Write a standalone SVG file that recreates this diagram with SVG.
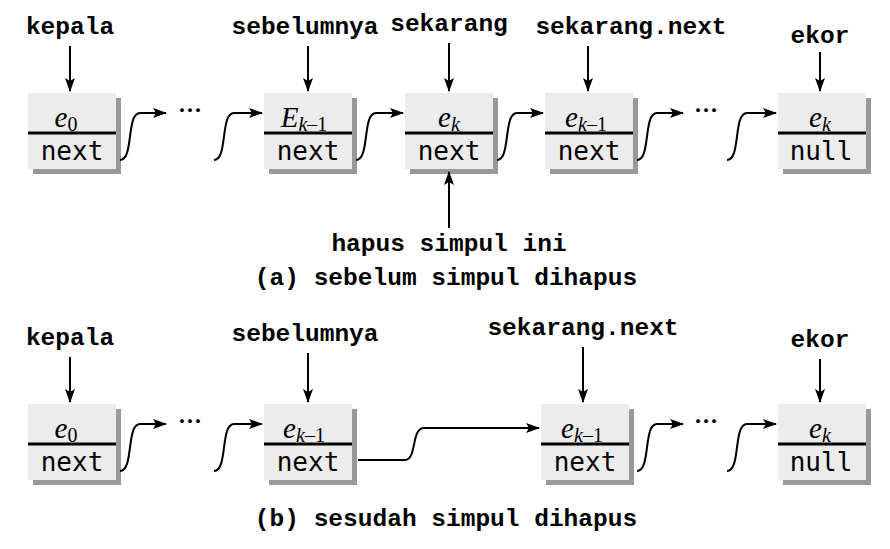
<svg xmlns="http://www.w3.org/2000/svg" width="890" height="549" viewBox="0 0 890 549">
<defs>
<marker id="ah" viewBox="0 0 14 10" refX="13" refY="5" markerWidth="14" markerHeight="10" markerUnits="userSpaceOnUse" orient="auto"><path d="M0,0 L14,5 L0,10 L3,5 Z" fill="#000"/></marker>
<g id="box">
<rect x="5" y="5" width="88" height="76" fill="#999"/>
<rect x="0" y="0" width="88" height="76" fill="#ececec"/>
<line x1="0" y1="40" x2="88" y2="40" stroke="#000" stroke-width="3"/>
</g>
</defs>
<style>
.lb{font-family:"Liberation Mono",monospace;font-weight:bold;font-size:24.5px;text-anchor:middle}
.mn{font-family:"DejaVu Sans Mono",monospace;font-size:26px;text-anchor:middle}
.it{font-family:"Liberation Serif",serif;font-style:italic;font-size:29px;text-anchor:middle}
.sb{font-family:"Liberation Serif",serif;font-size:20px}
.ln{fill:none;stroke:#000;stroke-width:2}
.dt{font-family:"Liberation Serif",serif;font-size:24px;font-weight:bold;text-anchor:middle}
</style>
<g id="labels">
<text class="lb" x="70" y="34">kepala</text>
<text class="lb" x="305" y="34">sebelumnya</text>
<text class="lb" x="449" y="31">sekarang</text>
<text class="lb" x="631" y="34">sekarang.next</text>
<text class="lb" x="820" y="43">ekor</text>
<text class="lb" x="449" y="251">hapus simpul ini</text>
<text class="lb" x="446" y="285">(a) sebelum simpul dihapus</text>
<text class="lb" x="70" y="345">kepala</text>
<text class="lb" x="305" y="341">sebelumnya</text>
<text class="lb" x="583" y="335">sekarang.next</text>
<text class="lb" x="820" y="347">ekor</text>
<text class="lb" x="446" y="526">(b) sesudah simpul dihapus</text>
</g>
<g id="n1"><use href="#box" x="28" y="93"/><text class="it" x="66" y="127">e<tspan class="sb" font-style="normal" dy="4">0</tspan></text><text class="mn" x="72" y="160">next</text></g>
<g id="n2"><use href="#box" x="264" y="93"/><text class="it" x="304" y="127">E<tspan class="sb" dy="4">k</tspan><tspan class="sb" font-style="normal">–1</tspan></text><text class="mn" x="308" y="160">next</text></g>
<g id="n3"><use href="#box" x="405" y="93"/><text class="it" x="449" y="127">e<tspan class="sb" dy="4">k</tspan></text><text class="mn" x="449" y="160">next</text></g>
<g id="n4"><use href="#box" x="545" y="93"/><text class="it" x="586" y="127">e<tspan class="sb" dy="4">k</tspan><tspan class="sb" font-style="normal">–1</tspan></text><text class="mn" x="589" y="160">next</text></g>
<g id="n5"><use href="#box" x="778" y="93"/><text class="it" x="820" y="127">e<tspan class="sb" dy="4">k</tspan></text><text class="mn" x="821" y="160">null</text></g>
<g id="m1"><use href="#box" x="28" y="404"/><text class="it" x="66" y="438">e<tspan class="sb" font-style="normal" dy="4">0</tspan></text><text class="mn" x="72" y="471">next</text></g>
<g id="m2"><use href="#box" x="264" y="404"/><text class="it" x="304" y="438">e<tspan class="sb" dy="4">k</tspan><tspan class="sb" font-style="normal">–1</tspan></text><text class="mn" x="308" y="471">next</text></g>
<g id="m4"><use href="#box" x="541" y="404"/><text class="it" x="582" y="438">e<tspan class="sb" dy="4">k</tspan><tspan class="sb" font-style="normal">–1</tspan></text><text class="mn" x="585" y="471">next</text></g>
<g id="m5"><use href="#box" x="778" y="404"/><text class="it" x="820" y="438">e<tspan class="sb" dy="4">k</tspan></text><text class="mn" x="821" y="471">null</text></g>
<g id="dots">
<text class="dt" x="190" y="118">···</text>
<text class="dt" x="706" y="118">···</text>
<text class="dt" x="190" y="429">···</text>
<text class="dt" x="706" y="429">···</text>
</g>
<g id="connectors">
<path class="ln" marker-end="url(#ah)" d="M70,46 V91"/>
<path class="ln" marker-end="url(#ah)" d="M308,46 V91"/>
<path class="ln" marker-end="url(#ah)" d="M449,43 V91"/>
<path class="ln" marker-end="url(#ah)" d="M588,46 V91"/>
<path class="ln" marker-end="url(#ah)" d="M820,52 V91"/>
<path class="ln" marker-end="url(#ah)" d="M449,228 V172"/>
<path class="ln" marker-end="url(#ah)" d="M70,357 V402"/>
<path class="ln" marker-end="url(#ah)" d="M308,353 V402"/>
<path class="ln" marker-end="url(#ah)" d="M583,347 V402"/>
<path class="ln" marker-end="url(#ah)" d="M820,359 V402"/>
<g id="curves">
<path class="ln" marker-end="url(#ah)" d="M120,160 C134,160 126,113 140,113 H166"/>
<path class="ln" marker-end="url(#ah)" d="M214,160 C228,160 220,113 234,113 H262"/>
<path class="ln" marker-end="url(#ah)" d="M356,160 C370,160 362,113 376,113 H403"/>
<path class="ln" marker-end="url(#ah)" d="M497,160 C511,160 503,113 517,113 H543"/>
<path class="ln" marker-end="url(#ah)" d="M637,160 C651,160 643,113 657,113 H683"/>
<path class="ln" marker-end="url(#ah)" d="M727,160 C741,160 733,113 747,113 H776"/>
<path class="ln" marker-end="url(#ah)" d="M120,471 C134,471 126,424 140,424 H166"/>
<path class="ln" marker-end="url(#ah)" d="M214,471 C228,471 220,424 234,424 H262"/>
<path class="ln" d="M358,460 H405 C417,460 411,428 424,428 H539" marker-end="url(#ah)"/>
<path class="ln" marker-end="url(#ah)" d="M637,471 C651,471 643,424 657,424 H683"/>
<path class="ln" marker-end="url(#ah)" d="M727,471 C741,471 733,424 747,424 H776"/>
</g>
</g>
</svg>
